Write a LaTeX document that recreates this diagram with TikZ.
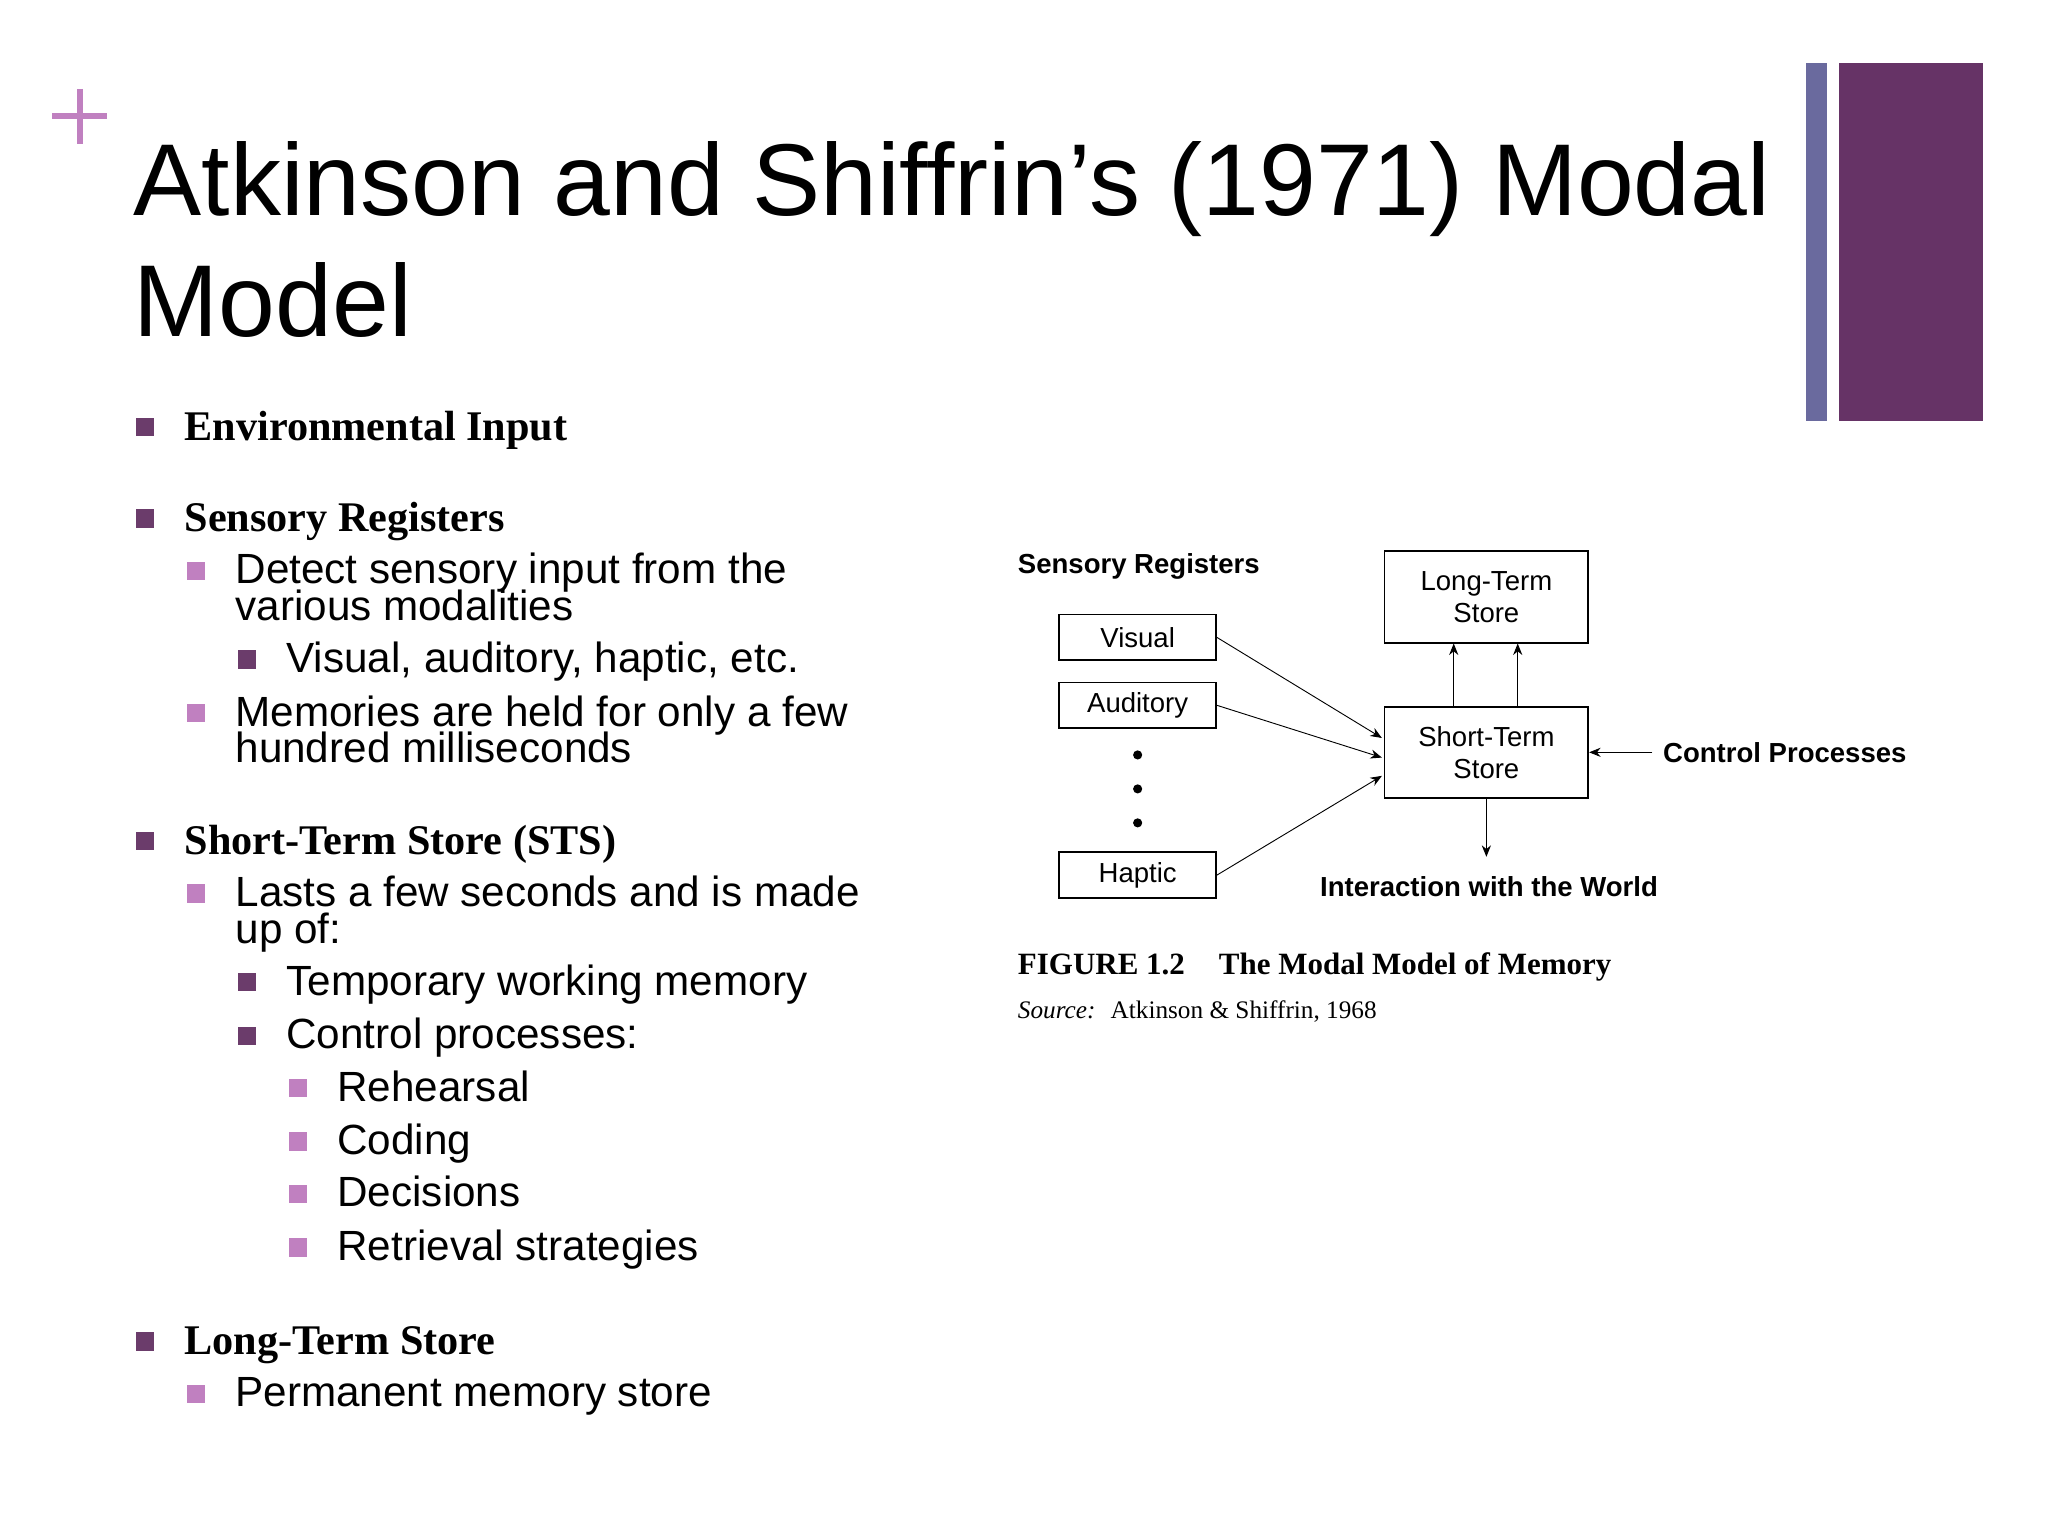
\documentclass[tikz,border=0pt]{standalone}
\usepackage{fontspec}
\setmainfont{Liberation Sans}
\newfontfamily\serif{Liberation Serif}
\usetikzlibrary{arrows.meta}
\definecolor{dpurp}{HTML}{663366}
\definecolor{lpurp}{HTML}{C080C0}
\definecolor{blbar}{HTML}{6A6A9E}
\definecolor{bdark}{HTML}{6B3C6B}
\begin{document}
\begin{tikzpicture}[x=0.02cm,y=-0.02cm,
  hd/.style={anchor=base west,inner sep=0pt,font=\serif\fontsize{18.4}{22}\selectfont\bfseries},
  tx/.style={anchor=base west,inner sep=0pt,font=\fontsize{18.4}{20}\selectfont},
  bbox/.style={draw,thick,minimum width=2.4cm,minimum height=0.7cm,font=\fontsize{12}{14}\selectfont},
  sbox/.style={draw,thick,minimum width=3.12cm,minimum height=1.4cm,font=\fontsize{12}{14}\selectfont,align=center},
  lab/.style={font=\fontsize{12}{14}\selectfont\bfseries},
  arr/.style={-{Stealth[length=5pt,width=4pt]},thin}]
\useasboundingbox (0,0) rectangle (1568,1176);
\fill[white] (0,0) rectangle (1568,1176);
% plus
\draw[lpurp,line width=2.5pt] (40,89)--(82,89) (61,68)--(61,110);
% bars
\fill[blbar] (1383,48) rectangle (1399,322);
\fill[dpurp] (1408,48) rectangle (1518,322);
% title
\node[anchor=base west,inner sep=0pt,font=\fontsize{44.5}{52}\selectfont] (t1) at (102,165) {Atkinson and Shiffrin’s (1971) Modal};
\node[anchor=base west,inner sep=0pt,font=\fontsize{44.5}{52}\selectfont] (t2) at (102,258) {Model};
% bullets
\newcommand{\bd}[2]{\fill[bdark] (#1,#2-2) rectangle ++(14,-14);}
\newcommand{\bl}[2]{\fill[lpurp] (#1,#2-2) rectangle ++(14,-14);}
\bd{104}{336}\node[hd] (h1) at (141,337) {Environmental Input};
\bd{104}{406}\node[hd] (h2) at (141,407) {Sensory Registers};
\bl{143}{446}\node[tx] (a1) at (180,447) {Detect sensory input from the};
\node[tx] (a1b) at (180,475) {various modalities};
\bd{182}{514}\node[tx] (a2) at (219,515) {Visual, auditory, haptic, etc.};
\bl{143}{555}\node[tx] (a3) at (180,556) {Memories are held for only a few};
\node[tx] (a3b) at (180,584) {hundred milliseconds};
\bd{104}{653}\node[hd] (h3) at (141,654) {Short-Term Store (STS)};
\bl{143}{693}\node[tx] (b1) at (180,694) {Lasts a few seconds and is made};
\node[tx] (b1b) at (180,722) {up of:};
\bd{182}{761}\node[tx] (b2) at (219,762) {Temporary working memory};
\bd{182}{802}\node[tx] (b3) at (219,803) {Control processes:};
\bl{221}{842}\node[tx] (c1) at (258,843) {Rehearsal};
\bl{221}{883}\node[tx] (c2) at (258,884) {Coding};
\bl{221}{923}\node[tx] (c3) at (258,924) {Decisions};
\bl{221}{964}\node[tx] (c4) at (258,965) {Retrieval strategies};
\bd{104}{1036}\node[hd] (h4) at (141,1037) {Long-Term Store};
\bl{143}{1076}\node[tx] (d1) at (180,1077) {Permanent memory store};
% figure
\node[lab,anchor=base west,inner sep=0pt] (sr) at (779,439) {Sensory Registers};
\node[bbox] (vis) at (871,488) {Visual};
\node[bbox] (aud) at (871,540) {Auditory};
\node[bbox] (hap) at (871,670) {Haptic};
\foreach \y in {578,604,630} \fill (871,\y) circle (3.5);
\node[sbox] (lts) at (1138,457) {Long-Term\\Store};
\node[sbox] (sts) at (1138,576) {Short-Term\\Store};
\draw[arr] (vis.east) -- (1058,565);
\draw[arr] (aud.east) -- (1058,580);
\draw[arr] (hap.east) -- (1058,594);
\draw[arr] (sts.north -| 1113,0) -- (lts.south -| 1113,0);
\draw[arr] (sts.north -| 1162,0) -- (lts.south -| 1162,0);
\node[lab,anchor=west,inner sep=0pt] (cp) at (1273,576) {Control Processes};
\draw[arr] (1265,576) -- (sts.east);
\coordinate (iw) at (1138,656);
\draw[arr] (sts.south) -- (iw);
\node[lab,anchor=base] (iwl) at (1140,686) {Interaction with the World};
\node[anchor=base west,inner sep=0pt,font=\serif\fontsize{13.5}{16}\selectfont\bfseries] (cap) at (779,746) {FIGURE 1.2\hspace{1.1em}The Modal Model of Memory};
\node[anchor=base west,inner sep=0pt,font=\serif\fontsize{11}{13}\selectfont] (src) at (779,780) {\textit{Source:}\hspace{0.6em}Atkinson \& Shiffrin, 1968};
\end{tikzpicture}
\end{document}
